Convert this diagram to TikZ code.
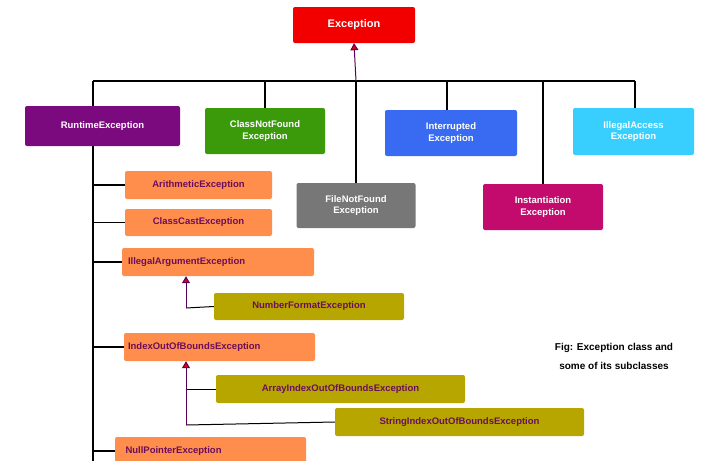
\documentclass[tikz,border=0pt]{standalone}
\usepackage{fontspec}
\setmainfont{Liberation Sans}
\usetikzlibrary{arrows.meta}
\definecolor{orng}{HTML}{FF8E4C}
\definecolor{olv}{HTML}{B8A600}
\definecolor{dtxt}{HTML}{6A0E5C}
\begin{document}
\begin{tikzpicture}[x=1pt,y=-1pt,
 box/.style={draw=none,rounded corners=2pt,inner sep=0pt,font=\bfseries\fontsize{9.5}{11.5}\selectfont,align=center},
 top/.style={box,text=white},
 sub/.style={box,fill=orng,text=dtxt},
 sub2/.style={box,fill=olv,text=dtxt},
 ln/.style={line width=1.2pt,black},
 inh/.style={line width=1pt,draw=violet!70!black,-{Triangle[length=7pt,width=8pt,fill=red!90!black]}}]
\useasboundingbox (0,0) rectangle (721,461);
\node[top,fill=red!95!black,minimum width=122pt,minimum height=36pt,font=\bfseries\fontsize{11}{13}\selectfont] (exc) at (354,25) {Exception};
\node[top,fill={rgb,255:red,123;green,10;blue,126},minimum width=155pt,minimum height=40pt] (rt) at (102.5,126) {RuntimeException};
\node[top,fill={rgb,255:red,58;green,154;blue,10},minimum width=120pt,minimum height=46pt] (cnf) at (265,131) {ClassNotFound\\Exception};
\node[top,fill={rgb,255:red,119;green,119;blue,119},minimum width=119pt,minimum height=45pt] (fnf) at (356,205.5) {FileNotFound\\Exception};
\node[top,fill={rgb,255:red,56;green,107;blue,242},minimum width=132pt,minimum height=46pt] (intr) at (451,133) {Interrupted\\Exception};
\node[top,fill={rgb,255:red,195;green,11;blue,110},minimum width=120pt,minimum height=46pt] (inst) at (543,207) {Instantiation\\Exception};
\node[top,fill={rgb,255:red,56;green,207;blue,255},minimum width=121pt,minimum height=47pt] (ill) at (633.5,131.5) {IllegalAccess\\Exception};
\coordinate (busL) at (93,81);
\coordinate (busR) at (635,81);
\coordinate (busM) at (356,81);
\draw[ln] (busL) -- (busR);
\draw[ln] (busM) -- (fnf.north);
\draw[inh] (busM) -- (exc.south);
\draw[ln] (rt.north -| busL) -- (busL);
\draw[ln] (cnf.north) -- (cnf.north |- busL);
\draw[ln] (intr.north -| 447,0) -- (447,81);
\draw[ln] (inst.north -| 543,0) -- (543,81);
\draw[ln] (ill.north -| 635,0) -- (635,81);
% runtime subclasses
\node[sub,minimum width=147pt,minimum height=28pt] (ari) at (198.5,185) {ArithmeticException};
\node[sub,minimum width=147pt,minimum height=27pt] (cc) at (198.5,222.5) {ClassCastException};
\node[sub,minimum width=192pt,minimum height=28pt,text width=180pt,align=left] (ia) at (218,262) {IllegalArgumentException};
\node[sub2,minimum width=190pt,minimum height=27pt] (nf) at (309,306.5) {NumberFormatException};
\node[sub,minimum width=191pt,minimum height=28pt,text width=183pt,align=left] (ioob) at (219.5,347) {IndexOutOfBoundsException};
\node[sub2,minimum width=249pt,minimum height=28pt] (aio) at (340.5,389) {ArrayIndexOutOfBoundsException};
\node[sub2,minimum width=249pt,minimum height=28pt] (sio) at (459.5,422) {StringIndexOutOfBoundsException};
\node[sub,minimum width=191pt,minimum height=28pt,text width=170pt,align=left] (np) at (210.5,451) {NullPointerException};
\coordinate (trB) at (93,461);
\draw[ln] (rt.south -| busL) -- (trB);
\foreach \n in {ari,cc,ia,ioob,np}{\draw[ln] (\n.west) -- (\n.west -| busL);}
\coordinate (nfC) at (186,308);
\draw[ln,line width=1pt] (nf.west) -- (nfC);
\draw[inh] (nfC) -- (ia.south -| nfC);
\coordinate (ioC) at (186,425);
\draw[ln,line width=1pt] (sio.west) -- (ioC);
\draw[ln,line width=1pt] (aio.west) -- (aio.west -| ioC);
\draw[inh] (ioC) -- (ioob.south -| ioC);
\node[font=\bfseries\fontsize{10}{19}\selectfont,align=center] (cap) at (614,356) {Fig: Exception class and\\some of its subclasses};
\end{tikzpicture}
\end{document}
